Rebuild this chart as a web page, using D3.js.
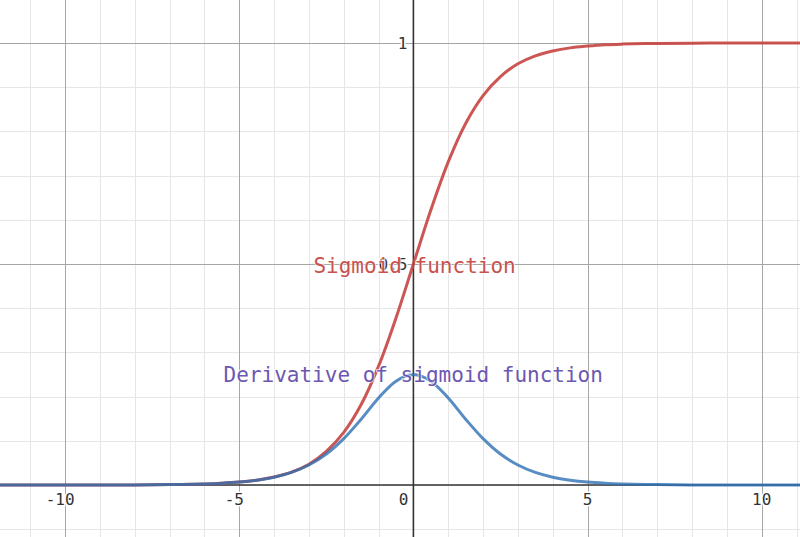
<!DOCTYPE html>
<html>
<head>
<meta charset="utf-8">
<script src="https://cdn.jsdelivr.net/npm/d3@7"></script>
<style>
  body { margin: 0; background: #fff; }
  svg { display: block; }
</style>
</head>
<body>
<div id="bdy"></div>
<script>
var width = 800;
var height = 537;

// sample points
var xs = [-12, -11, -10, -9, -8, -7, -6, -5.5, -5, -4.5, -4, -3.5, -3, -2.5, -2, -1.5, -1, -0.5,
          0, 0.5, 1, 1.5, 2, 2.5, 3, 3.5, 4, 4.5, 5, 5.5, 6, 7, 8, 9, 10, 11, 12];
var sigmoid = [0, 0, 0.00005, 0.0001, 0.0003, 0.0009, 0.0025, 0.0041, 0.0067, 0.011, 0.018, 0.029, 0.047, 0.076, 0.119, 0.182, 0.269, 0.378,
               0.5, 0.622, 0.731, 0.818, 0.881, 0.924, 0.953, 0.971, 0.982, 0.989, 0.993, 0.996, 0.9975, 0.9991, 0.9997, 0.9999, 1, 1, 1];
var derivative = [0, 0, 0.00005, 0.0001, 0.0003, 0.0009, 0.0025, 0.0041, 0.0066, 0.0109, 0.0177, 0.0285, 0.0452, 0.0701, 0.105, 0.149, 0.197, 0.235,
                  0.25, 0.235, 0.197, 0.149, 0.105, 0.0701, 0.0452, 0.0285, 0.0177, 0.0109, 0.0066, 0.0041, 0.0025, 0.0009, 0.0003, 0.0001, 0.00005, 0, 0];

var xTicks = [-10, -5, 5, 10];
var yTicks = [0.5, 1];

var labels = [
  {text: "Sigmoid function", x: -2.87, y: 0.48, color: "#c8524e"},
  {text: "Derivative of sigmoid function", x: -5.45, y: 0.234, color: "#6c57b2"}
];

var x = d3.scaleLinear().domain([-11.87, 11.1]).range([0, width]);
var y = d3.scaleLinear().domain([-0.1176, 1.0973]).range([height, 0]);

var svg = d3.select('#bdy').append('svg')
    .attr('width', width)
    .attr('height', height);

// minor grid
svg.append('g').selectAll('line')
    .data(d3.range(-12, 12))
    .enter().append('line')
    .attr('x1', function(d) { return Math.round(x(d)) + 0.5; })
    .attr('x2', function(d) { return Math.round(x(d)) + 0.5; })
    .attr('y1', 0).attr('y2', height)
    .attr('stroke', '#e6e6e6');
svg.append('g').selectAll('line')
    .data(d3.range(-1, 12).map(function(i) { return i / 10; }))
    .enter().append('line')
    .attr('y1', function(d) { return Math.round(y(d)) + 0.5; })
    .attr('y2', function(d) { return Math.round(y(d)) + 0.5; })
    .attr('x1', 0).attr('x2', width)
    .attr('stroke', '#e6e6e6');

// major grid
svg.append('g').selectAll('line')
    .data(xTicks)
    .enter().append('line')
    .attr('x1', function(d) { return Math.round(x(d)) + 0.5; })
    .attr('x2', function(d) { return Math.round(x(d)) + 0.5; })
    .attr('y1', 0).attr('y2', height)
    .attr('stroke', '#a6a6a6');
svg.append('g').selectAll('line')
    .data(yTicks)
    .enter().append('line')
    .attr('y1', function(d) { return Math.round(y(d)) + 0.5; })
    .attr('y2', function(d) { return Math.round(y(d)) + 0.5; })
    .attr('x1', 0).attr('x2', width)
    .attr('stroke', '#a6a6a6');

// axes
svg.append('line')
    .attr('x1', 0).attr('x2', width)
    .attr('y1', y(0)).attr('y2', y(0))
    .attr('stroke', '#333').attr('stroke-width', 1.6);
svg.append('line')
    .attr('x1', x(0)).attr('x2', x(0))
    .attr('y1', 0).attr('y2', height)
    .attr('stroke', '#333').attr('stroke-width', 1.6);

// tick labels
var tickFont = "'DejaVu Sans Mono', monospace";
svg.append('g').selectAll('text')
    .data(xTicks)
    .enter().append('text')
    .attr('x', function(d) { return x(d) + (d < 0 ? -5 : 0); })
    .attr('y', 505)
    .attr('text-anchor', 'middle')
    .style('font-family', tickFont)
    .style('font-size', '16px')
    .attr('fill', '#333')
    .attr('stroke', '#fff').attr('stroke-width', 3).attr('paint-order', 'stroke')
    .text(function(d) { return d < 0 ? '-' + Math.abs(d) : d; });
svg.append('text')
    .attr('x', x(0) - 5).attr('y', 505)
    .attr('text-anchor', 'end')
    .style('font-family', tickFont)
    .style('font-size', '16px')
    .attr('fill', '#333')
    .attr('stroke', '#fff').attr('stroke-width', 3).attr('paint-order', 'stroke')
    .text('0');
svg.append('g').selectAll('text')
    .data(yTicks)
    .enter().append('text')
    .attr('x', x(0) - 6)
    .attr('y', function(d) { return y(d) + 5.5; })
    .attr('text-anchor', 'end')
    .style('font-family', tickFont)
    .style('font-size', '16px')
    .attr('fill', '#333')
    .attr('stroke', '#fff').attr('stroke-width', 3).attr('paint-order', 'stroke')
    .text(function(d) { return d; });

// curves
var line = d3.line().curve(d3.curveCatmullRom);
svg.append('path')
    .attr('d', line(xs.map(function(d, i) { return [x(d), y(sigmoid[i])]; })))
    .attr('fill', 'none')
    .attr('stroke', '#c74440')
    .attr('stroke-opacity', 0.9)
    .attr('stroke-width', 3);
svg.append('path')
    .attr('d', line(xs.map(function(d, i) { return [x(d), y(derivative[i])]; })))
    .attr('fill', 'none')
    .attr('stroke', '#2d70b3')
    .attr('stroke-opacity', 0.8)
    .attr('stroke-width', 3);

// curve labels
svg.append('g').selectAll('text')
    .data(labels)
    .enter().append('text')
    .attr('x', function(d) { return x(d.x); })
    .attr('y', function(d) { return y(d.y); })
    .style('font-family', "'DejaVu Sans Mono', monospace")
    .style('font-size', '21px')
    .attr('fill', function(d) { return d.color; })
    .attr('stroke', '#fff').attr('stroke-width', 2).attr('stroke-opacity', 0.7)
    .attr('paint-order', 'stroke')
    .text(function(d) { return d.text; });
</script>
</body>
</html>
